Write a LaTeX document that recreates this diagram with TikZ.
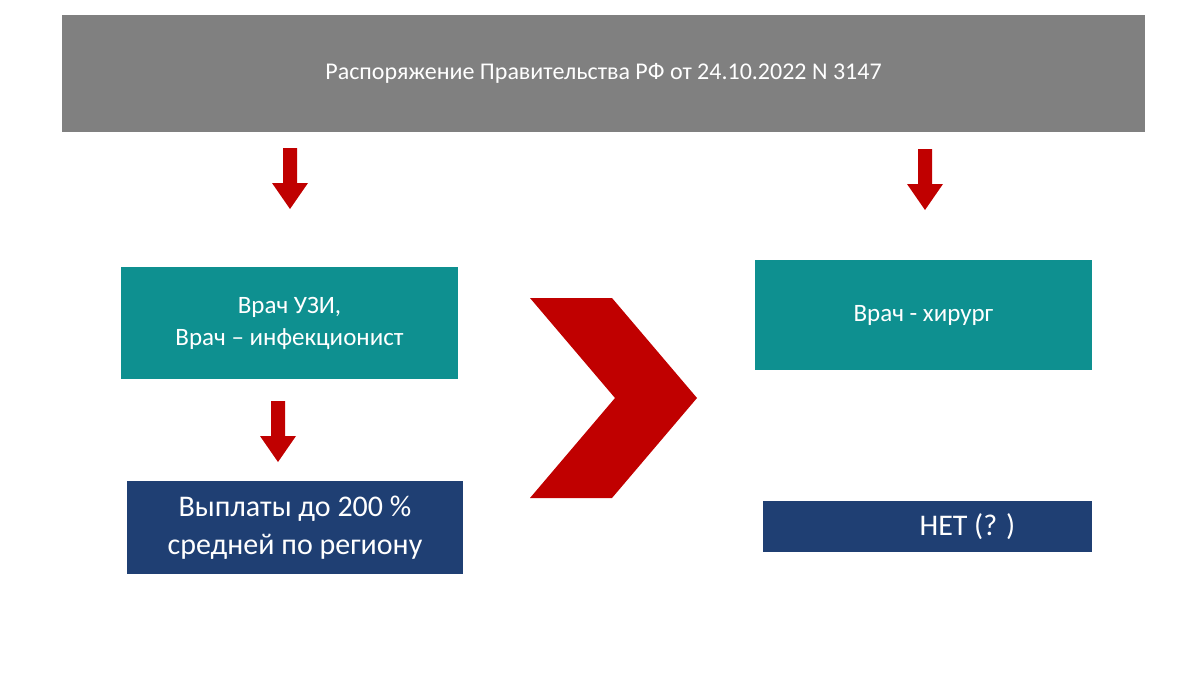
\documentclass[tikz,border=0pt]{standalone}
\usepackage{fontspec}
\setmainfont{Carlito}
\usetikzlibrary{positioning}
\definecolor{headgray}{HTML}{808080}
\definecolor{tealbox}{HTML}{0E9090}
\definecolor{navybox}{HTML}{1F3F73}
\definecolor{darkred}{HTML}{C00000}
\tikzset{
  box/.style={draw=none, text=white, align=center, inner sep=0pt},
  % block arrow pointing down, from (#1) with length #2
  downarrow/.pic={\fill[darkred] (-7,0) -- (7,0) -- (7,-35) -- (18,-35) -- (0,-61) -- (-18,-35) -- (-7,-35) -- cycle;}
}
\begin{document}
\begin{tikzpicture}[x=0.5pt,y=0.5pt]
  \useasboundingbox (0,0) rectangle (1200,-675);

  \node [box, fill=headgray, minimum width=541.5pt, minimum height=58.5pt, font=\fontsize{12}{14}\selectfont]
    (head) at (603.5,-73.5) {Распоряжение Правительства РФ от 24.10.2022 N 3147};

  \node [box, fill=tealbox, minimum width=168.5pt, minimum height=56pt, font=\fontsize{12.5}{16}\selectfont]
    (usi) at (289.5,-323) {Врач УЗИ,\\Врач – инфекционист};
  \node [box, fill=navybox, minimum width=168pt, minimum height=46.5pt, font=\fontsize{15}{19}\selectfont]
    (payleft) at (295,-527.5) {Выплаты до 200 \%\\средней по региону};

  \node [box, fill=tealbox, minimum width=168.5pt, minimum height=55pt, font=\fontsize{12.5}{16}\selectfont]
    (surgeon) at (923.5,-315) {Врач - хирург};
  \node [box, fill=navybox, minimum width=164.5pt, minimum height=25.5pt, font=\fontsize{15}{18}\selectfont]
    (payright) at (927.5,-526.5) {\hspace*{40pt}НЕТ (? )};

  \pic at (290,-148) {downarrow};
  \pic at (925,-149) {downarrow};
  \pic at (278,-401) {downarrow};

  % chevron
  \fill[darkred] (530,-298) -- (612,-298) -- (697,-398) -- (612,-498) -- (530,-498) -- (615,-398) -- cycle;
\end{tikzpicture}
\end{document}
